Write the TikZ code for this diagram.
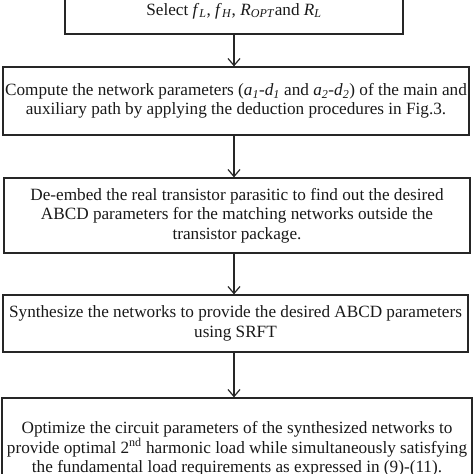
\documentclass[tikz,border=0pt]{standalone}
\usepackage{fontspec}
\setmainfont{Liberation Serif}
\usetikzlibrary{arrows.meta}
\tikzset{
  flowbox/.style={draw=black!85, line width=1.2pt, align=center, inner sep=0pt,
    font=\fontsize{17.2}{19.5}\selectfont, text=black!90},
  flowarrow/.style={draw=black!85, line width=1.2pt, -{Straight Barb[length=7pt,width=12pt,line width=1.2pt]}}
}
\begin{document}
\begin{tikzpicture}[x=1pt,y=1pt]
\useasboundingbox (0,0) rectangle (474,474);
\node[flowbox, minimum width=338pt, minimum height=46pt] (b1) at (234,463)
  {Select \textit{f}\textsubscript{\textit{L}}, \textit{f}\textsubscript{\textit{H}}, \textit{R}\textsubscript{\textit{OPT}}and \textit{R}\textsubscript{\textit{L}}};
\node[flowbox, minimum width=466pt, minimum height=68pt] (b2) at (236,373)
  {Compute the network parameters (\textit{a}\textsubscript{\textit{1}}-\textit{d}\textsubscript{\textit{1}} and \textit{a}\textsubscript{\textit{2}}-\textit{d}\textsubscript{\textit{2}}) of the main and\\
   auxiliary path by applying the deduction procedures in Fig.3.};
\node[flowbox, minimum width=466pt, minimum height=75pt] (b3) at (237,258.5)
  {De-embed the real transistor parasitic to find out the desired\\
   ABCD parameters for the matching networks outside the\\
   transistor package.};
\node[flowbox, minimum width=465pt, minimum height=57pt] (b4) at (235.5,150.5)
  {Synthesize the networks to provide the desired ABCD parameters\\
   using SRFT};
\node[flowbox, minimum width=470pt, minimum height=102pt] (b5) at (237,25)
  {Optimize the circuit parameters of the synthesized networks to\\
   provide optimal 2\textsuperscript{nd} harmonic load while simultaneously satisfying\\
   the fundamental load requirements as expressed in (9)-(11).};
\draw[flowarrow] (b1.south -| 234,0) -- (b2.north -| 234,0);
\draw[flowarrow] (b2.south -| 234,0) -- (b3.north -| 234,0);
\draw[flowarrow] (b3.south -| 234,0) -- (b4.north -| 234,0);
\draw[flowarrow] (b4.south -| 234,0) -- (b5.north -| 234,0);
\end{tikzpicture}
\end{document}
